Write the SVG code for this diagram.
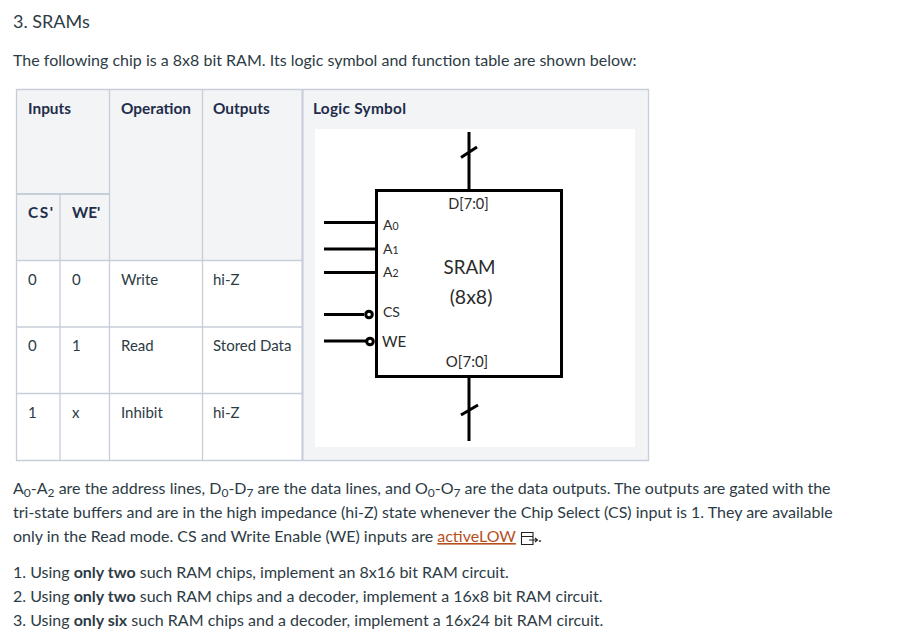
<svg xmlns="http://www.w3.org/2000/svg" width="898" height="635" viewBox="0 0 898 635">
<style>
text{font-family:Lato,"Liberation Sans",sans-serif;font-size:16px;fill:#2d3b45}
.th{font-weight:700;fill:#1f2d4a;font-size:15.4px}
.td{font-size:15px}
.g{stroke:#c7cdd9;stroke-width:1.3;fill:none}
.k{stroke:#000;stroke-width:3;fill:none}
.sym{fill:#2b2b2b}
.sub{font-size:12px}
</style>
<rect width="898" height="635" fill="#fff"/>
<text x="13" y="28" style="font-size:18px">3. SRAMs</text>
<text x="13" y="66">The following chip is a 8x8 bit RAM. Its logic symbol and function table are shown below:</text>
<g id="table">
<rect x="16.5" y="89.5" width="632" height="371" fill="#fff"/>
<path d="M16.5 89.5H648.500V460.500H302V260.500H16.500Z" fill="#f3f4f6"/>
<path class="g" d="M16.500 89.500H648.500V460.500H16.500ZM16.500 194H109.500M16.500 260.500H302M16.500 327H302M16.500 393.500H302M60 194V460.500M109.500 89.500V460.500M202.500 89.500V460.500M302.500 89.500V460.500"/>
<path d="M16.500 194H109.500" stroke="#c7cdd9" stroke-width="2"/>
<path d="M302.500 89.500V460.500" stroke="#c7cdd9" stroke-width="2"/>
<text class="th" x="28" y="113.500">Inputs</text>
<text class="th" x="121" y="113.500">Operation</text>
<text class="th" x="213" y="113.500">Outputs</text>
<text class="th" x="313" y="113.500" textLength="93">Logic Symbol</text>
<text class="th" x="28" y="218" textLength="25">CS'</text>
<text class="th" x="72" y="218">WE'</text>
<text class="td" x="28" y="284.500">0</text>
<text class="td" x="72" y="284.500">0</text>
<text class="td" x="121" y="284.500">Write</text>
<text class="td" x="213" y="284.500">hi-Z</text>
<text class="td" x="28" y="351">0</text>
<text class="td" x="72" y="351">1</text>
<text class="td" x="121" y="351">Read</text>
<text class="td" x="213" y="351">Stored Data</text>
<text class="td" x="28" y="418">1</text>
<text class="td" x="72" y="418">x</text>
<text class="td" x="121" y="418">Inhibit</text>
<text class="td" x="213" y="418">hi-Z</text>
<rect x="315" y="129" width="320" height="318" fill="#fff"/>
</g>
<g id="connectors">
<path class="k" d="M469 132V190M461 157.500L477 147M469 377V441M461 415L478 405"/>
<path class="k" d="M324 222.500H376M324 249H376M324 272.500H376M324 314.500H364M324 341H366"/>
<circle class="k" cx="369" cy="314.500" r="3.300" stroke-width="2.500"/>
<circle class="k" cx="370" cy="341.500" r="3.300" stroke-width="2.500"/>
</g>
<g id="sram">
<rect class="k" x="376.500" y="190.500" width="185" height="186"/>
<text class="sym" x="468.500" y="209" text-anchor="middle" style="font-size:14.500px">D[7:0]</text>
<text class="sym" x="383" y="229.500" style="font-size:14px">A<tspan font-size="10.500">0</tspan></text>
<text class="sym" x="383" y="254" style="font-size:14px">A<tspan font-size="10.500">1</tspan></text>
<text class="sym" x="383" y="277" style="font-size:14px">A<tspan font-size="10.500">2</tspan></text>
<text class="sym" x="383" y="317" style="font-size:14px">CS</text>
<text class="sym" x="382" y="347" style="font-size:15px">WE</text>
<text class="sym" x="469.500" y="273.500" text-anchor="middle" style="font-size:18.800px">SRAM</text>
<text class="sym" x="471" y="303.500" text-anchor="middle" style="font-size:19.500px">(8x8)</text>
<text class="sym" x="467" y="367" text-anchor="middle" style="font-size:15px">O[7:0]</text>
</g>
<text x="13" y="494">A<tspan class="sub" dy="3">0</tspan><tspan dy="-3">-A</tspan><tspan class="sub" dy="3">2</tspan><tspan dy="-3"> are the address lines, D</tspan><tspan class="sub" dy="3">0</tspan><tspan dy="-3">-D</tspan><tspan class="sub" dy="3">7</tspan><tspan dy="-3"> are the data lines, and O</tspan><tspan class="sub" dy="3">0</tspan><tspan dy="-3">-O</tspan><tspan class="sub" dy="3">7</tspan><tspan dy="-3"> are the data outputs. The outputs are gated with the</tspan></text>
<text x="13" y="518">tri-state buffers and are in the high impedance (hi-Z) state whenever the Chip Select (CS) input is 1. They are available</text>
<text x="13" y="542">only in the Read mode. CS and Write Enable (WE) inputs are <tspan style="fill:#b5501d;text-decoration:underline">activeLOW</tspan></text>
<path d="M533 542V532.500H521.500V544.500H533V541M522 536.500H533M529 540H537M535 538L537.500 540L535 542" fill="none" stroke="#222" stroke-width="1.100"/>
<text x="538" y="542">.</text>
<text x="13" y="578">1. Using <tspan font-weight="700">only two</tspan> such RAM chips, implement an 8x16 bit RAM circuit.</text>
<text x="13" y="602">2. Using <tspan font-weight="700">only two</tspan> such RAM chips and a decoder, implement a 16x8 bit RAM circuit.</text>
<text x="13" y="626">3. Using <tspan font-weight="700">only six</tspan> such RAM chips and a decoder, implement a 16x24 bit RAM circuit.</text>
</svg>
